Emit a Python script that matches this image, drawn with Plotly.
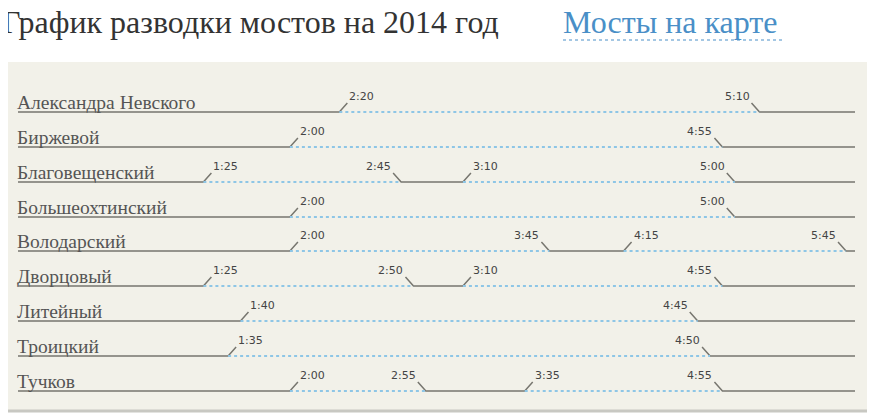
import plotly.graph_objects as go

# Bridge schedule data (opening / closing times)
bridges = ["Александра Невского", "Биржевой", "Благовещенский", "Большеохтинский",
           "Володарский", "Дворцовый", "Литейный", "Троицкий", "Тучков"]
raise_times = [["2:20"], ["2:00"], ["1:25", "3:10"], ["2:00"], ["2:00", "4:15"],
               ["1:25", "3:10"], ["1:40"], ["1:35"], ["2:00", "3:35"]]
lower_times = [["5:10"], ["4:55"], ["2:45", "5:00"], ["5:00"], ["3:45", "5:45"],
               ["2:50", "4:55"], ["4:45"], ["4:50"], ["2:55", "4:55"]]
row_y = [112, 147, 182, 217, 251, 286, 321, 356, 391]

OFF = 8  # page offset of the figure
PX_H = 148.3
x_lo, x_hi = (OFF + 6.7) / PX_H, (875 + OFF + 6.7) / PX_H
line_start, line_end = (18 + 6.7) / PX_H, (855 + 6.7) / PX_H
slant = 8 / PX_H
GRAY = "#77766f"
BLUE = "#8ec6e6"


def hrs(t):
    h, m = t.split(":")
    return int(h) + int(m) / 60


def px(p):
    return (p - OFF) / 875


fig = go.Figure()

for name, ups, downs, y in zip(bridges, raise_times, lower_times, row_y):
    ups_h = [hrs(t) for t in ups]
    downs_h = [hrs(t) for t in downs]
    # gray (closed) segments
    gx, gy = [line_start], [y]
    for u, d in zip(ups_h, downs_h):
        gx += [u, u + slant, None, d - slant, d]
        gy += [y, y - 9, None, y - 9, y]
    gx.append(line_end)
    gy.append(y)
    fig.add_trace(go.Scatter(x=gx, y=gy, mode="lines", line=dict(color=GRAY, width=1.5),
                             hoverinfo="skip", showlegend=False))
    # blue (open) segments
    for u, d, ut, dt in zip(ups_h, downs_h, ups, downs):
        fig.add_trace(go.Scatter(x=[u, d], y=[y, y], mode="lines",
                                 line=dict(color=BLUE, width=2, dash="dot"),
                                 hoverinfo="skip", showlegend=False))
        fig.add_annotation(x=u + slant, y=y - 7, text=ut, showarrow=False, xanchor="left",
                           yanchor="bottom", xshift=0,
                           font=dict(family="DejaVu Sans", size=11, color="#444"))
        fig.add_annotation(x=d - slant, y=y - 7, text=dt, showarrow=False, xanchor="right",
                           yanchor="bottom", xshift=0,
                           font=dict(family="DejaVu Sans", size=11, color="#444"))
    fig.add_annotation(x=line_start, y=y, text=name, showarrow=False, xanchor="left",
                       yanchor="bottom", yshift=-3, xshift=-3,
                       font=dict(family="Liberation Serif", size=19.5, color="#555"))

# background panel and bottom border
fig.add_shape(type="rect", xref="paper", x0=0, x1=1, yref="y", y0=62, y1=410,
              fillcolor="#f2f1e9", line_width=0, layer="below")
fig.add_shape(type="line", xref="paper", x0=0, x1=1, yref="y", y0=411, y1=411,
              line=dict(color="#c8c8c2", width=3))

fig.add_annotation(xref="paper", x=px(0), y=22, text="График разводки мостов на 2014 год",
                   showarrow=False, xanchor="left", yanchor="middle",
                   font=dict(family="Liberation Serif", size=32, color="#333"))
fig.add_annotation(xref="paper", x=px(561), y=22, text="Мосты на карте",
                   showarrow=False, xanchor="left", yanchor="middle",
                   font=dict(family="Liberation Serif", size=32, color="#4a8fc7"))
fig.add_shape(type="line", xref="paper", x0=px(563), x1=px(783), yref="y", y0=40, y1=40,
              line=dict(color="#4a8fc7", width=1, dash="dot"))

fig.update_layout(
    width=875, height=415, margin=dict(l=0, r=0, t=0, b=0),
    paper_bgcolor="white", plot_bgcolor="white",
    xaxis=dict(range=[x_lo, x_hi], visible=False),
    yaxis=dict(range=[415 + OFF, OFF], visible=False),
)

fig.write_html("out.html")
